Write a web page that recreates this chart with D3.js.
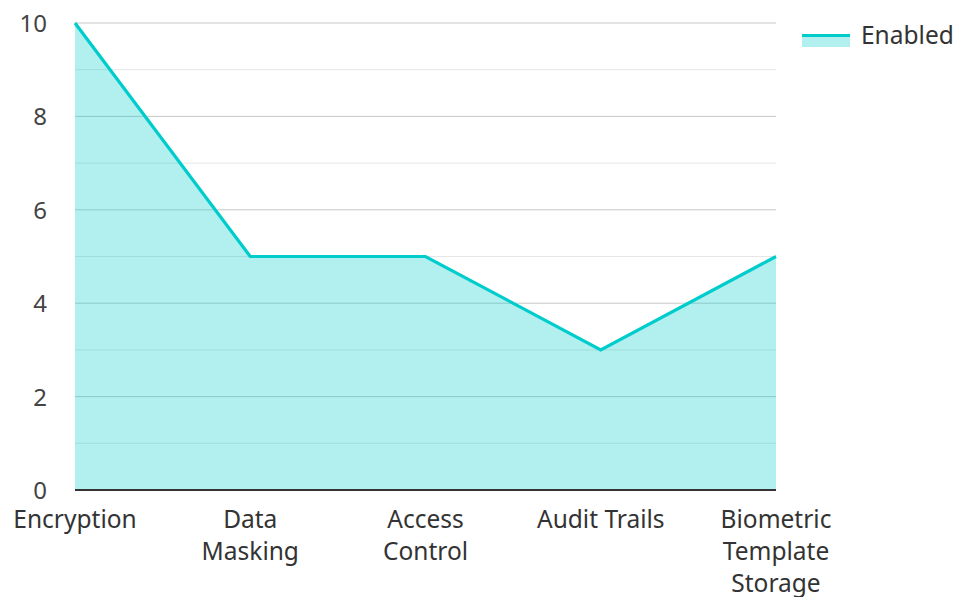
<!DOCTYPE html>
<html><head><meta charset="utf-8">
<script src="https://cdn.jsdelivr.net/npm/d3@7"></script>
<style>body{margin:0;background:#fff;}svg{display:block;font-family:"Noto Sans","Open Sans",sans-serif;}</style>
</head><body><svg id="c" width="957" height="597"></svg>
<script>
const categories = ["Encryption", "Data Masking", "Access Control", "Audit Trails", "Biometric Template Storage"];
const categoryLines = [["Encryption"], ["Data", "Masking"], ["Access", "Control"], ["Audit Trails"], ["Biometric", "Template", "Storage"]];
const enabledValues = [10, 5, 5, 3, 5];
const seriesName = "Enabled";
const yTicks = [0, 2, 4, 6, 8, 10];
const yMinorTicks = [1, 3, 5, 7, 9];

(function(){
const svg = d3.select("#c");
const mLeft = 75, mRight = 776, mTop = 23, mBottom = 490;
const x = d3.scalePoint().domain(categories).range([mLeft, mRight]);
const y = d3.scaleLinear().domain([0, 10]).range([mBottom, mTop]);
const color = "#00cccc";

// gridlines
svg.append("g").selectAll("line").data(yMinorTicks).join("line")
  .attr("x1", mLeft).attr("x2", mRight)
  .attr("y1", d => y(d)).attr("y2", d => y(d))
  .attr("stroke", "#e6e6e6").attr("stroke-width", 1);
svg.append("g").selectAll("line").data(yTicks.filter(d => d > 0)).join("line")
  .attr("x1", mLeft).attr("x2", mRight)
  .attr("y1", d => y(d)).attr("y2", d => y(d))
  .attr("stroke", "#c8c8c8").attr("stroke-width", 1);

const data = categories.map((c, i) => ({c, v: enabledValues[i]}));
svg.append("path").datum(data)
  .attr("d", d3.area().x(d => x(d.c)).y0(y(0)).y1(d => y(d.v)))
  .attr("fill", color).attr("fill-opacity", 0.3);
svg.append("path").datum(data)
  .attr("d", d3.line().x(d => x(d.c)).y(d => y(d.v)))
  .attr("fill", "none").attr("stroke", color).attr("stroke-width", 3.2).attr("stroke-linejoin", "miter");

// x axis line
svg.append("line").attr("x1", mLeft).attr("x2", mRight).attr("y1", mBottom).attr("y2", mBottom)
  .attr("stroke", "#333").attr("stroke-width", 2);

// y tick labels
svg.append("g").selectAll("text").data(yTicks).join("text")
  .attr("x", 47).attr("y", d => y(d) + 9)
  .attr("text-anchor", "end").attr("font-size", 24).attr("fill", "#444")
  .text(d => d);

// x labels
const xl = svg.append("g").selectAll("text").data(categories).join("text")
  .attr("text-anchor", "middle").attr("font-size", 24.5).attr("fill", "#333")
  .attr("transform", d => `translate(${x(d)},528)`);
xl.each(function(d, i) {
  d3.select(this).selectAll("tspan").data(categoryLines[i]).join("tspan")
    .attr("x", 0).attr("y", (t, j) => j * 32).text(t => t);
});

// legend
const lg = svg.append("g");
lg.append("rect").attr("x", 802).attr("y", 34).attr("width", 48).attr("height", 13)
  .attr("fill", color).attr("fill-opacity", 0.3);
lg.append("line").attr("x1", 802).attr("x2", 850).attr("y1", 35.5).attr("y2", 35.5)
  .attr("stroke", color).attr("stroke-width", 3);
lg.append("text").attr("x", 861).attr("y", 44).attr("font-size", 24.5).attr("fill", "#333").text(seriesName);
})();
</script></body></html>
